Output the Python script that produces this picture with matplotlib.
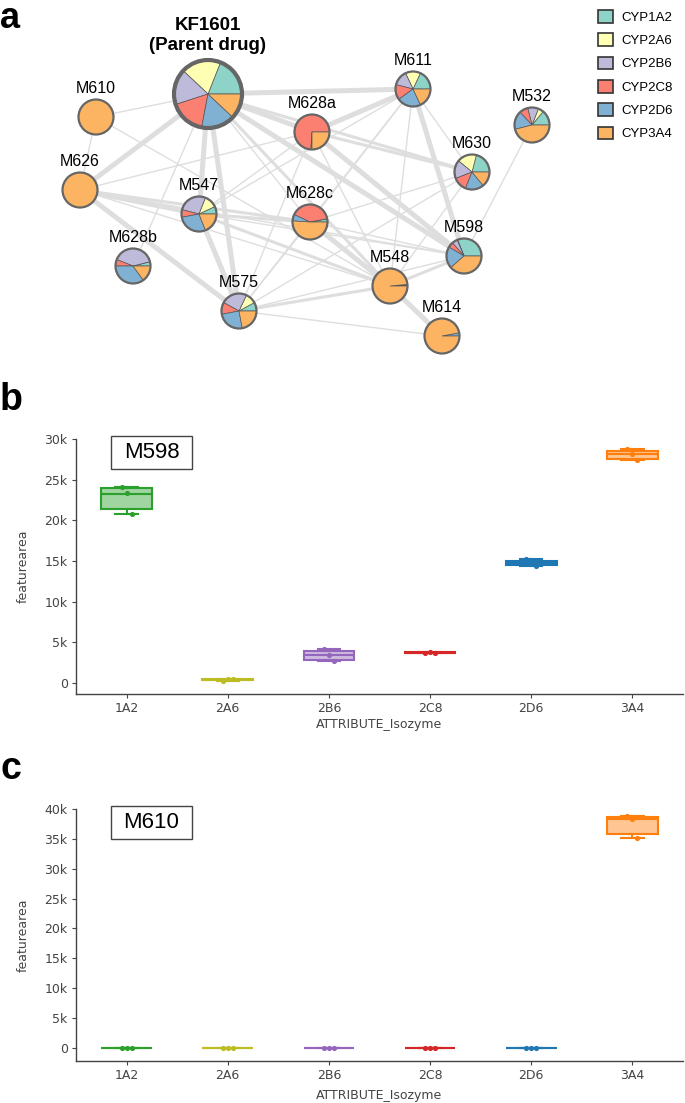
import numpy as np
import matplotlib
matplotlib.use('Agg')
import matplotlib.pyplot as plt
from matplotlib.patches import Circle, Patch, Rectangle
from matplotlib.ticker import FuncFormatter

# ---- panel a: metabolite network ----
cyp_names = ['CYP1A2', 'CYP2A6', 'CYP2B6', 'CYP2C8', 'CYP2D6', 'CYP3A4']
cyp_colors = ['#8dd3c7', '#ffffb3', '#bebada', '#fb8072', '#80b1d3', '#fdb462']

nodes = ['KF1601', 'M610', 'M626', 'M628a', 'M611', 'M532', 'M630', 'M547',
         'M628c', 'M628b', 'M575', 'M598', 'M548', 'M614']

# share (%) of each isozyme per node, in cyp_names order
shares = {
    'KF1601': [19, 19, 17, 17, 16, 12],
    'M610':   [0, 0, 0, 0, 0, 100],
    'M626':   [0, 0, 0, 0, 0, 100],
    'M628a':  [0, 0, 0, 74, 1, 25],
    'M611':   [18, 14, 14, 14, 22, 18],
    'M532':   [14, 5, 10, 8, 17, 46],
    'M630':   [21, 18, 17, 13, 17, 14],
    'M547':   [7, 12, 27, 7, 28, 19],
    'M628c':  [3, 0, 0, 40, 6, 51],
    'M628b':  [4, 0, 40, 6, 35, 15],
    'M575':   [8, 10, 24, 11, 25, 22],
    'M598':   [31, 0.5, 5, 5, 20, 38.5],
    'M548':   [0, 0, 0, 0.5, 1, 98.5],
    'M614':   [0, 0, 0, 0, 3, 97],
}

# edges with weight class (1 thin, 2 medium, 3 thick)
edges = [
    ('KF1601', 'M611', 3), ('KF1601', 'M628a', 3), ('KF1601', 'M626', 3),
    ('KF1601', 'M610', 1), ('KF1601', 'M547', 3), ('KF1601', 'M575', 3),
    ('KF1601', 'M628b', 1), ('KF1601', 'M628c', 1), ('KF1601', 'M598', 3),
    ('KF1601', 'M548', 2), ('KF1601', 'M630', 2),
    ('M610', 'M626', 1), ('M610', 'M548', 1),
    ('M626', 'M628a', 1), ('M626', 'M547', 3), ('M626', 'M575', 3),
    ('M626', 'M628c', 2), ('M626', 'M598', 1), ('M626', 'M548', 1),
    ('M547', 'M575', 3), ('M547', 'M628c', 2), ('M547', 'M598', 1),
    ('M547', 'M548', 2), ('M547', 'M628a', 1), ('M547', 'M611', 1),
    ('M575', 'M548', 2), ('M575', 'M598', 1), ('M575', 'M614', 1),
    ('M575', 'M628c', 1), ('M575', 'M628a', 1), ('M575', 'M611', 1),
    ('M575', 'M630', 1),
    ('M628a', 'M611', 3), ('M628a', 'M630', 2), ('M628a', 'M598', 3),
    ('M628a', 'M548', 1),
    ('M628c', 'M548', 3), ('M628c', 'M598', 1), ('M628c', 'M611', 1),
    ('M628c', 'M630', 1),
    ('M611', 'M630', 1), ('M611', 'M598', 3), ('M611', 'M548', 1),
    ('M630', 'M548', 1), ('M532', 'M598', 1),
    ('M548', 'M598', 2), ('M548', 'M614', 3),
]

# ---- panels b, c: box plots ----
isozymes = ['1A2', '2A6', '2B6', '2C8', '2D6', '3A4']
box_colors = ['#2ca02c', '#bcbd22', '#9467bd', '#d62728', '#1f77b4', '#ff7f0e']

m598_points = [[24150, 23300, 20800], [300, 450, 550], [4150, 3450, 2650],
               [3680, 3800, 3750], [15300, 14750, 14400], [28750, 28100, 27450]]
m598_q1 = [21350, 350, 2850, 3700, 14450, 27550]
m598_med = [23250, 420, 3450, 3750, 14750, 28100]
m598_q3 = [23950, 500, 3980, 3800, 15050, 28550]
m598_lo = [20800, 300, 2650, 3650, 14400, 27450]
m598_hi = [24150, 550, 4150, 3820, 15300, 28750]

m610_points = [[0, 0, 0], [0, 0, 0], [0, 0, 0], [0, 0, 0], [0, 0, 0], [38800, 38300, 35100]]
m610_q1 = [0, 0, 0, 0, 0, 35800]
m610_med = [0, 0, 0, 0, 0, 38300]
m610_q3 = [0, 0, 0, 0, 0, 38600]
m610_lo = [0, 0, 0, 0, 0, 35100]
m610_hi = [0, 0, 0, 0, 0, 38800]

# ---- layout (pixel positions of the network, y from top) ----
W, H = 685, 1103
NET_H = 360
layout = {
    'KF1601': (208, 94), 'M610': (96, 117), 'M626': (80, 190), 'M628a': (312, 132),
    'M611': (413, 89), 'M532': (532, 125), 'M630': (472, 172), 'M547': (199, 214),
    'M628c': (310, 222), 'M628b': (133, 266), 'M575': (239, 311), 'M598': (464, 256),
    'M548': (390, 286), 'M614': (442, 336),
}
radius = {n: 17.5 for n in nodes}
radius['KF1601'] = 34
edge_lw = {1: 1.0, 2: 2.2, 3: 3.6}

fig = plt.figure(figsize=(W / 100, H / 100), dpi=100)

ax = fig.add_axes([0, 1 - NET_H / H, 1, NET_H / H])
pos = {n: (x, NET_H - y) for n, (x, y) in layout.items()}

for a, b, w in edges:
    (x1, y1), (x2, y2) = pos[a], pos[b]
    ax.plot([x1, x2], [y1, y2], color='#dedede', lw=edge_lw[w], zorder=1,
            solid_capstyle='butt')

for n in nodes:
    x, y = pos[n]
    r = radius[n]
    ax.pie(shares[n], colors=cyp_colors, center=(x, y), radius=r, frame=True,
           wedgeprops=dict(edgecolor='#555555', linewidth=0.5, zorder=3))
    ax.add_patch(Circle((x, y), r, fill=False, edgecolor='#666666',
                        lw=3 if n == 'KF1601' else 1.6, zorder=4))
    if n == 'KF1601':
        ax.text(x, y + r + 10, '(Parent drug)', ha='center', va='baseline',
                fontsize=13.5, fontweight='bold', family='Liberation Sans')
        ax.text(x, y + r + 30.5, 'KF1601', ha='center', va='baseline',
                fontsize=13.5, fontweight='bold', family='Liberation Sans')
    else:
        ax.text(x, y + r + 6.5, n, ha='center', va='baseline', fontsize=11.5,
                family='Liberation Sans')

ax.set_xlim(0, W)
ax.set_ylim(0, NET_H)
ax.set_axis_off()

handles = [Patch(facecolor=c, edgecolor='#333333', lw=1.2) for c in cyp_colors]
leg = ax.legend(handles, cyp_names, loc='upper left', bbox_to_anchor=(598 / W, 1 - 10 / NET_H),
                frameon=False, handlelength=1.1, handleheight=1.1,
                handletextpad=0.7, labelspacing=0.72, borderpad=0, borderaxespad=0,
                prop={'family': 'Liberation Sans', 'size': 9.5})


def kfmt(v, p):
    return '0' if v == 0 else f'{int(round(v / 1000))}k'


def box_panel(top_px, bottom_px, ylim, ticks, label, q1, med, q3, lo, hi, points, xlab_gap):
    axb = fig.add_axes([76 / W, 1 - bottom_px / H, 607 / W, (bottom_px - top_px) / H])
    stats = []
    for i in range(len(isozymes)):
        stats.append(dict(q1=q1[i], med=med[i], q3=q3[i], whislo=lo[i], whishi=hi[i],
                          fliers=[], label=isozymes[i]))
    bp = axb.bxp(stats, positions=range(len(isozymes)), widths=0.5, patch_artist=True,
                 showfliers=False, capwidths=0.22)
    for i, c in enumerate(box_colors):
        bp['boxes'][i].set(facecolor=matplotlib.colors.to_rgba(c, 0.45), edgecolor=c, lw=1.5)
        bp['medians'][i].set(color=c, lw=1.5)
        for k in (2 * i, 2 * i + 1):
            bp['whiskers'][k].set(color=c, lw=1.5)
            bp['caps'][k].set(color=c, lw=1.5)
        pts = points[i]
        xs = i + np.linspace(-0.05, 0.05, len(pts))
        axb.scatter(xs, pts, s=14, color=c, zorder=5, linewidths=0)

    axb.set_xlim(-0.5, 5.5)
    axb.set_ylim(*ylim)
    axb.set_yticks(ticks)
    axb.yaxis.set_major_formatter(FuncFormatter(kfmt))
    axb.set_xticks(range(len(isozymes)))
    axb.set_xticklabels(isozymes)
    for s in ('top', 'right'):
        axb.spines[s].set_visible(False)
    for s in ('left', 'bottom'):
        axb.spines[s].set_color('#444444')
        axb.spines[s].set_linewidth(1.0)
    axb.spines['left'].set_bounds(ylim[0], ticks[-1])
    axb.tick_params(colors='#444444', labelsize=9, length=3, pad=3, width=0.8)
    axb.set_ylabel('featurearea', fontsize=9, color='#444444')
    axb.set_xlabel('ATTRIBUTE_Isozyme', fontsize=9, color='#444444')
    axb.yaxis.set_label_coords(-0.076, 0.5)
    hpx = bottom_px - top_px
    axb.xaxis.set_label_coords(0.5, -xlab_gap / hpx)
    # label box
    axb.add_patch(Rectangle(((111 - 76) / 607, (bottom_px - (top_px + 30)) / hpx),
                            81 / 607, 33 / hpx, transform=axb.transAxes, fill=False,
                            edgecolor='#444444', lw=1.0, clip_on=False))
    axb.text((151.5 - 76) / 607, (bottom_px - (top_px + 13)) / hpx, label,
             transform=axb.transAxes, ha='center', va='center', fontsize=16,
             family='Liberation Sans')
    return axb


box_panel(439, 694, (-1350, 30000), [0, 5000, 10000, 15000, 20000, 25000, 30000], 'M598',
          m598_q1, m598_med, m598_q3, m598_lo, m598_hi, m598_points, 24)
box_panel(809, 1061, (-2200, 40000), list(range(0, 40001, 5000)), 'M610',
          m610_q1, m610_med, m610_q3, m610_lo, m610_hi, m610_points, 28)

fig.text(0.0, 1 - 0.5 / H, 'a', ha='left', va='top', fontsize=26,
         fontweight='bold', family='Liberation Sans')
for letter, py in (('b', 410), ('c', 779)):
    fig.text(0.0, 1 - py / H, letter, ha='left', va='baseline', fontsize=27,
             fontweight='bold', family='Liberation Sans')

fig.savefig('out.png', dpi=100)
